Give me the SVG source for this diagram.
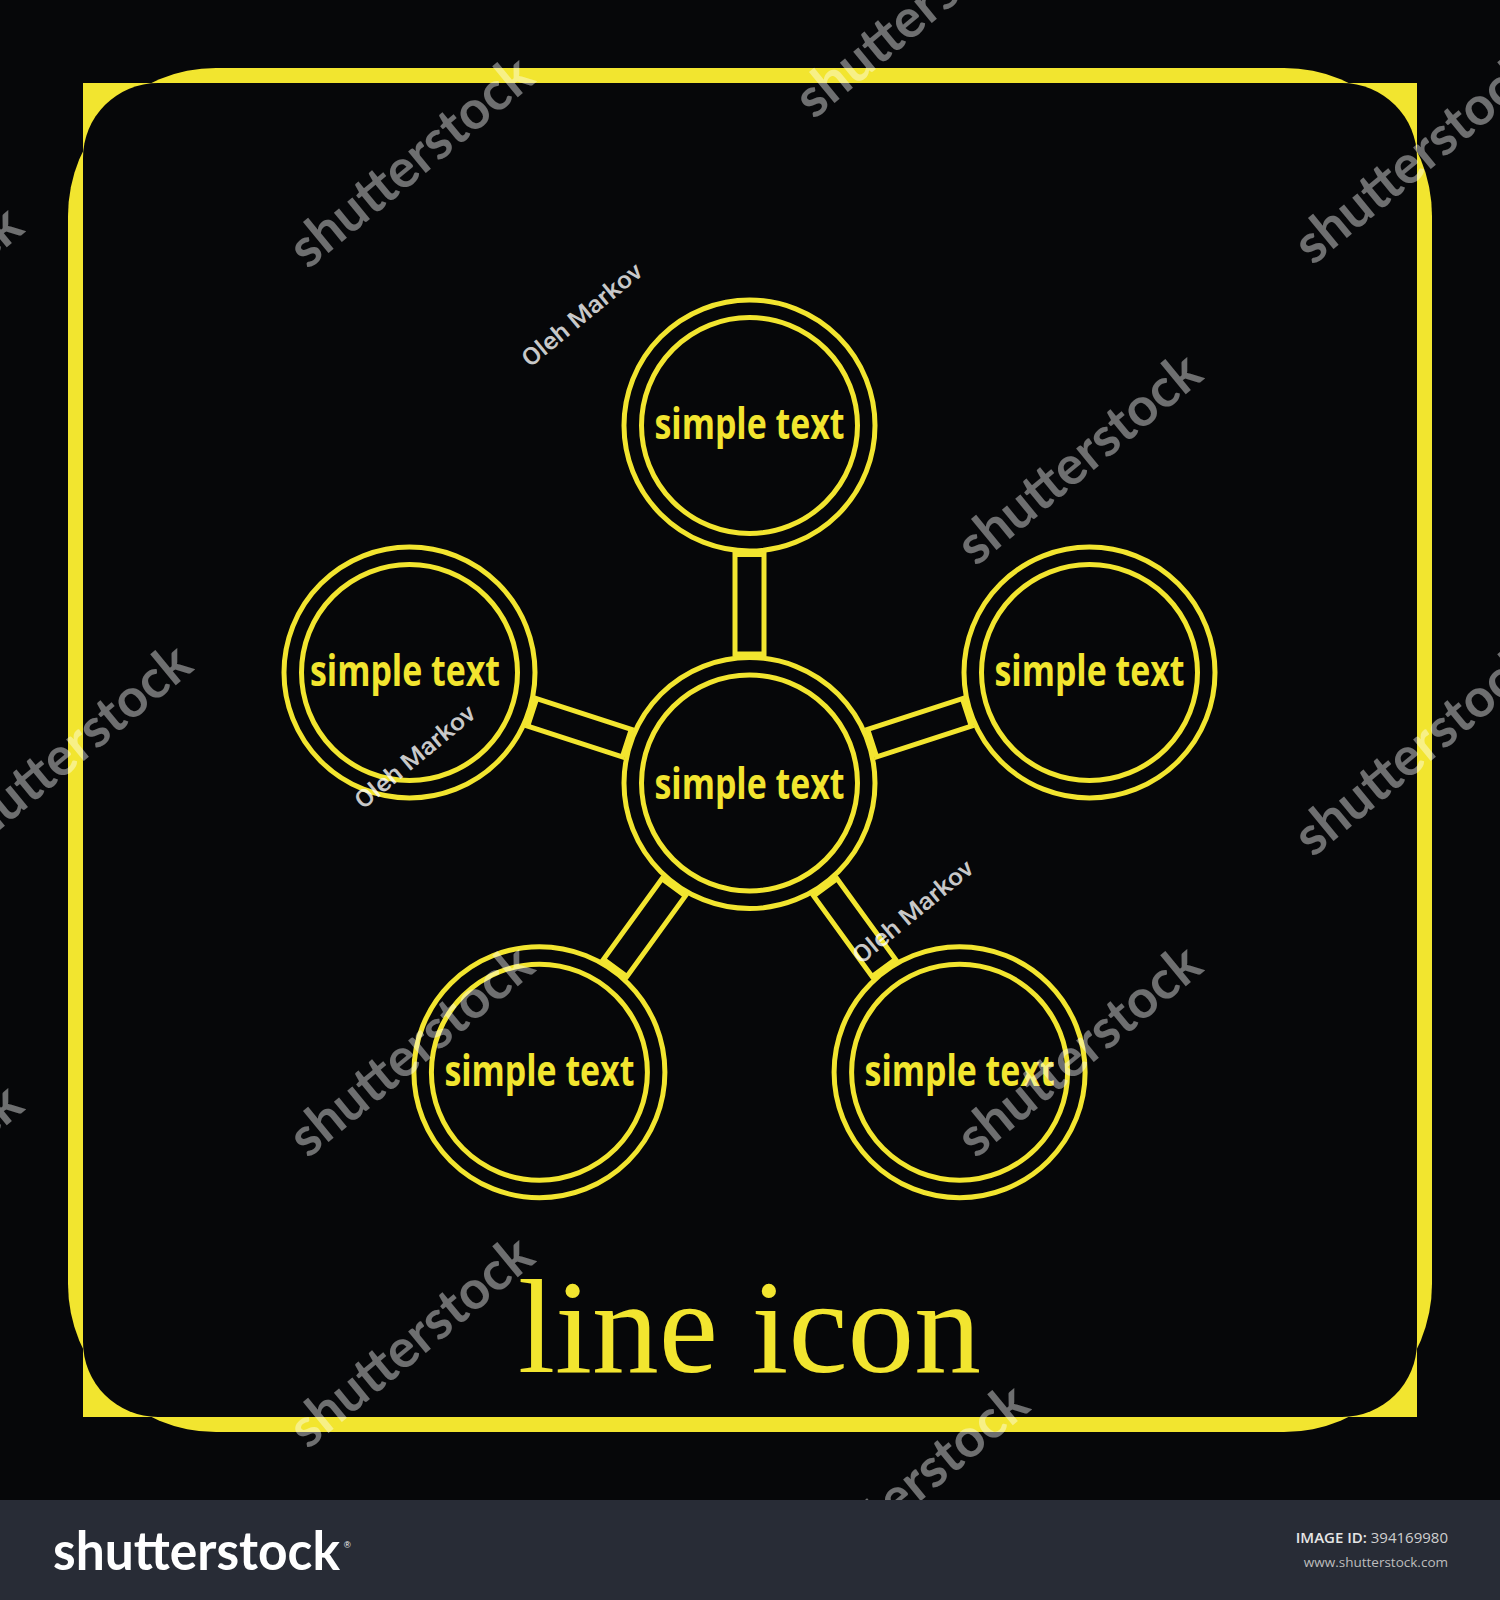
<svg xmlns="http://www.w3.org/2000/svg" width="1500" height="1600" viewBox="0 0 1500 1600">
<style>
.ring{fill:#060709;stroke:#f2e52f;stroke-width:5}
.bar{fill:#060709;stroke:#f2e52f;stroke-width:5}
.lbl{font-family:"Open Sans","Liberation Sans",sans-serif;font-weight:700;font-size:43px;fill:#f2e52f;text-anchor:middle}
.wm{font-family:Lato,"Open Sans",sans-serif;font-weight:700;font-size:54px;fill:#ffffff;fill-opacity:0.42}
.wm2{font-family:Roboto,"Liberation Sans",sans-serif;font-weight:500;font-size:24px;fill:#ffffff;fill-opacity:0.8}
</style>
<rect x="0" y="0" width="1500" height="1600" fill="#060709"/>
<g id="frame">
<rect x="83" y="83" width="1334" height="1334" fill="#f2e52f"/>
<rect x="68" y="68" width="1364" height="1364" rx="148" ry="148" fill="#f2e52f"/>
<rect x="83" y="83" width="1334" height="1334" rx="75" ry="75" fill="#060709"/>
</g>
<g id="connectors">
<rect class="bar" x="129" y="-14.5" width="99.5" height="29" transform="translate(749.5 783) rotate(-90)"/>
<rect class="bar" x="129" y="-14.5" width="99.5" height="29" transform="translate(749.5 783) rotate(-18)"/>
<rect class="bar" x="129" y="-14.5" width="99.5" height="29" transform="translate(749.5 783) rotate(54)"/>
<rect class="bar" x="129" y="-14.5" width="99.5" height="29" transform="translate(749.5 783) rotate(126)"/>
<rect class="bar" x="129" y="-14.5" width="99.5" height="29" transform="translate(749.5 783) rotate(198)"/>
</g>
<g id="node-center">
<circle class="ring" cx="749.5" cy="783" r="125.5"/>
<circle class="ring" cx="749.5" cy="783" r="108"/>
<text class="lbl" x="749.5" y="799" textLength="190" lengthAdjust="spacingAndGlyphs">simple text</text>
</g>
<g id="node-top">
<circle class="ring" cx="749.5" cy="425.5" r="125.5"/>
<circle class="ring" cx="749.5" cy="425.5" r="108"/>
<text class="lbl" x="749.5" y="439" textLength="190" lengthAdjust="spacingAndGlyphs">simple text</text>
</g>
<g id="node-right">
<circle class="ring" cx="1089.5" cy="672.5" r="125.5"/>
<circle class="ring" cx="1089.5" cy="672.5" r="108"/>
<text class="lbl" x="1089.5" y="686" textLength="190" lengthAdjust="spacingAndGlyphs">simple text</text>
</g>
<g id="node-bottom-right">
<circle class="ring" cx="959.6" cy="1072.2" r="125.5"/>
<circle class="ring" cx="959.6" cy="1072.2" r="108"/>
<text class="lbl" x="959.6" y="1086" textLength="190" lengthAdjust="spacingAndGlyphs">simple text</text>
</g>
<g id="node-bottom-left">
<circle class="ring" cx="539.4" cy="1072.2" r="125.5"/>
<circle class="ring" cx="539.4" cy="1072.2" r="108"/>
<text class="lbl" x="539.4" y="1086" textLength="190" lengthAdjust="spacingAndGlyphs">simple text</text>
</g>
<g id="node-left">
<circle class="ring" cx="409.5" cy="672.5" r="125.5"/>
<circle class="ring" cx="409.5" cy="672.5" r="108"/>
<text class="lbl" x="405" y="686" textLength="190" lengthAdjust="spacingAndGlyphs">simple text</text>
</g>
<text id="title" x="749.5" y="1372" font-family="'Liberation Serif',serif" font-size="133" fill="#f2e52f" text-anchor="middle" textLength="463" lengthAdjust="spacingAndGlyphs">line icon</text>
<g id="watermarks">
<text class="wm" transform="translate(308 270) rotate(-39.5)" textLength="297" lengthAdjust="spacingAndGlyphs">shutterstock</text>
<text class="wm" transform="translate(814 120) rotate(-39.5)" textLength="297" lengthAdjust="spacingAndGlyphs">shutterstock</text>
<text class="wm" transform="translate(1313 266) rotate(-39.5)" textLength="297" lengthAdjust="spacingAndGlyphs">shutterstock</text>
<text class="wm" transform="translate(-34 858) rotate(-39.5)" textLength="297" lengthAdjust="spacingAndGlyphs">shutterstock</text>
<text class="wm" transform="translate(976 567) rotate(-39.5)" textLength="297" lengthAdjust="spacingAndGlyphs">shutterstock</text>
<text class="wm" transform="translate(1313 858) rotate(-39.5)" textLength="297" lengthAdjust="spacingAndGlyphs">shutterstock</text>
<text class="wm" transform="translate(308 1159) rotate(-39.5)" textLength="297" lengthAdjust="spacingAndGlyphs">shutterstock</text>
<text class="wm" transform="translate(976 1159) rotate(-39.5)" textLength="297" lengthAdjust="spacingAndGlyphs">shutterstock</text>
<text class="wm" transform="translate(308 1450) rotate(-39.5)" textLength="297" lengthAdjust="spacingAndGlyphs">shutterstock</text>
<text class="wm" transform="translate(803 1598) rotate(-39.5)" textLength="297" lengthAdjust="spacingAndGlyphs">shutterstock</text>
<text class="wm" transform="translate(-203 420) rotate(-39.5)" textLength="297" lengthAdjust="spacingAndGlyphs">shutterstock</text>
<text class="wm" transform="translate(-203 1298) rotate(-39.5)" textLength="297" lengthAdjust="spacingAndGlyphs">shutterstock</text>
<text class="wm2" transform="translate(530 368) rotate(-39.5)" textLength="148" lengthAdjust="spacingAndGlyphs">Oleh Markov</text>
<text class="wm2" transform="translate(363 810) rotate(-39.5)" textLength="148" lengthAdjust="spacingAndGlyphs">Oleh Markov</text>
<text class="wm2" transform="translate(861 965) rotate(-39.5)" textLength="148" lengthAdjust="spacingAndGlyphs">Oleh Markov</text>
</g>
<g id="footer">
<rect x="0" y="1500" width="1500" height="100" fill="#282c36"/>
<text x="53" y="1570" font-family="Lato,'Open Sans',sans-serif" font-weight="700" font-size="54" fill="#ffffff" textLength="287" lengthAdjust="spacingAndGlyphs">shutterstock</text>
<text x="344" y="1548" font-family="'Liberation Sans',sans-serif" font-size="9" fill="#ffffff">®</text>
<text x="1448" y="1543" font-family="'Open Sans','Liberation Sans',sans-serif" font-size="15" fill="#e6e6e6" text-anchor="end"><tspan font-weight="600">IMAGE ID:</tspan> <tspan fill="#cfcfcf">394169980</tspan></text>
<text x="1448" y="1567" font-family="'Open Sans','Liberation Sans',sans-serif" font-size="13.5" fill="#bdbdbd" text-anchor="end">www.shutterstock.com</text>
</g>
</svg>
